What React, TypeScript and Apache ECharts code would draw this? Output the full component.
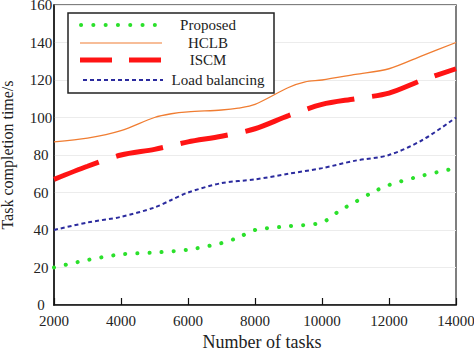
import React, { useEffect, useRef } from "react";
import * as echarts from "echarts";

// Number of tasks (x) and task completion time in seconds for each scheduler
const proposedX = [2000, 3000, 4000, 5000, 6000, 7000, 7500, 8000, 9000, 10000, 10500, 11000, 11500, 12000, 13000, 14000];
const proposedY = [20, 24, 27, 28, 29.5, 33, 36, 40, 42, 44, 50, 55, 60, 64, 69, 73];

const hclbX = [2000, 3000, 4000, 5000, 5500, 6000, 7000, 7500, 8000, 9000, 9500, 10000, 11000, 12000, 13000, 14000];
const hclbY = [87, 89, 93, 100, 102, 103, 104, 105, 107, 116, 119, 120, 123, 126, 133, 140];

const iscmX = [2000, 3000, 4000, 5000, 6000, 7000, 8000, 9000, 10000, 11000, 12000, 13000, 14000];
const iscmY = [67, 74, 80, 83, 87, 90, 94, 101, 107, 110, 113, 120, 126];

const lbX = [2000, 3000, 4000, 5000, 5500, 6000, 7000, 8000, 9000, 10000, 11000, 12000, 13000, 14000];
const lbY = [40, 44, 47, 52, 56, 60, 65, 67, 70, 73, 77, 80, 88, 100];

const seriesNames = ["Proposed", "HCLB", "ISCM", "Load balancing"];
const colors = ["#2be02b", "#f07d32", "#ff1414", "#2b2b9e"];

const zip = (xs: number[], ys: number[]) => xs.map((x, i) => [x, ys[i]]);

const FONT = "'Liberation Serif', 'DejaVu Serif', serif";

export default function App() {
  const ref = useRef<HTMLDivElement>(null);

  useEffect(() => {
    if (!ref.current) return;
    const chart = echarts.init(ref.current, undefined, { renderer: "svg" });

    const legendRows = [25, 43, 60, 80];
    const legendText = [208, 208, 208, 218];
    const legendLines: any[] = [
      { x1: 81, x2: 155, style: { stroke: colors[0], lineWidth: 4, lineDash: [0.1, 12.2], lineCap: "round" } },
      { x1: 80, x2: 162, style: { stroke: colors[1], lineWidth: 1.2 } },
      { x1: 80, x2: 161, style: { stroke: colors[2], lineWidth: 5, lineDash: [32, 17] } },
      { x1: 83, x2: 163, style: { stroke: colors[3], lineWidth: 2, lineDash: [4, 3] } },
    ];

    const graphic: any[] = [
      {
        type: "rect",
        shape: { x: 68, y: 13, width: 206, height: 80 },
        style: { fill: "#fff", stroke: "#222", lineWidth: 1.5 },
        z: 100,
      },
    ];
    legendLines.forEach((l, i) => {
      graphic.push({
        type: "line",
        shape: { x1: l.x1, y1: legendRows[i], x2: l.x2, y2: legendRows[i] },
        style: { ...l.style, fill: null },
        z: 101,
      });
      graphic.push({
        type: "text",
        x: legendText[i],
        y: legendRows[i],
        style: {
          text: seriesNames[i],
          fill: "#222",
          font: `15px ${FONT}`,
          textAlign: "center",
          textVerticalAlign: "middle",
        },
        z: 101,
      });
    });

    chart.setOption({
      animation: false,
      backgroundColor: "#fff",
      textStyle: { fontFamily: FONT },
      grid: {
        left: 54,
        right: 18,
        top: 5,
        bottom: 46,
        show: true,
        borderColor: "#555",
        borderWidth: 1.5,
        containLabel: false,
        outerBoundsMode: "none",
      },
      xAxis: {
        type: "value",
        min: 2000,
        max: 14000,
        interval: 2000,
        name: "Number of tasks",
        nameLocation: "middle",
        nameGap: 28,
        nameTextStyle: { fontSize: 18, color: "#222", fontFamily: FONT, padding: [0, 0, 0, 14] },
        axisLine: { show: true, lineStyle: { color: "#111", width: 1.5 } },
        axisTick: { show: true, inside: true, length: 7, lineStyle: { color: "#111", width: 1.2 } },
        axisLabel: {
          fontSize: 15,
          color: "#222",
          fontFamily: FONT,
          margin: 8,
          formatter: (v: number) => String(v),
        },
        splitLine: { show: false },
      },
      yAxis: {
        type: "value",
        min: 0,
        max: 160,
        interval: 20,
        name: "Task completion time/s",
        nameLocation: "middle",
        nameGap: 39,
        nameTextStyle: { fontSize: 16, color: "#222", fontFamily: FONT },
        axisLine: { show: true, lineStyle: { color: "#111", width: 1.5 } },
        axisTick: { show: false },
        axisLabel: { fontSize: 15, color: "#222", fontFamily: FONT, margin: 13, align: "center" },
        splitLine: { show: true, lineStyle: { color: "#ececec", width: 1.2 } },
      },
      series: [
        {
          name: seriesNames[0],
          type: "line",
          data: zip(proposedX, proposedY),
          smooth: 0.3,
          showSymbol: false,
          lineStyle: { color: colors[0], width: 4, type: [0.1, 12], cap: "round" },
          z: 3,
        },
        {
          name: seriesNames[1],
          type: "line",
          data: zip(hclbX, hclbY),
          smooth: 0.3,
          showSymbol: false,
          lineStyle: { color: colors[1], width: 1.3 },
          z: 3,
        },
        {
          name: seriesNames[2],
          type: "line",
          data: zip(iscmX, iscmY),
          smooth: 0.3,
          showSymbol: false,
          lineStyle: { color: colors[2], width: 5, type: [48, 18] },
          z: 3,
        },
        {
          name: seriesNames[3],
          type: "line",
          data: zip(lbX, lbY),
          smooth: 0.3,
          showSymbol: false,
          lineStyle: { color: colors[3], width: 2, type: [4, 3] },
          z: 3,
        },
      ],
      graphic,
    });

    return () => chart.dispose();
  }, []);

  return (
    <div
      ref={ref}
      style={{ position: "fixed", left: 0, top: 0, width: 474, height: 351 }}
    />
  );
}
